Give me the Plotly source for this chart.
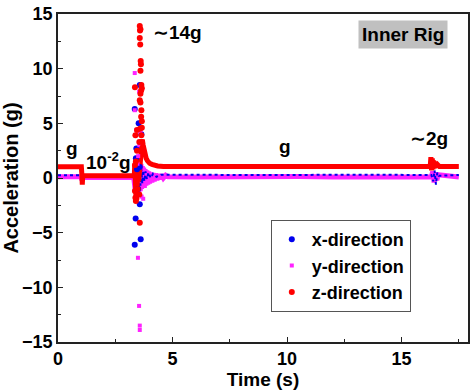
import plotly.graph_objects as go

# ---------------- data ----------------
# baselines (continuous noisy bands), time in s, acceleration in g
x_line_t = [0, 1.0, 1.04, 1.08, 3.30, 3.36, 3.40, 3.44, 3.48, 3.52, 3.56, 3.60, 3.64, 3.68,
            3.72, 3.77, 3.82, 3.88, 3.95, 4.05, 4.15, 4.30, 4.50, 6.0, 8.0, 10.0, 12.0, 14.0,
            16.30, 16.38, 16.44, 16.50, 16.56, 16.62, 17.50]
x_line_a = [0.25, 0.25, -0.1, 0.15, 0.15, -1.2, 1.0, -1.4, 1.2, -0.9, 1.0, -0.7, 0.8, -0.5,
            0.7, -0.3, 0.6, -0.1, 0.5, 0.0, 0.4, 0.1, 0.3, 0.28, 0.3, 0.27, 0.3, 0.28,
            0.28, -0.3, 0.7, -0.6, 0.5, 0.2, 0.28]

y_line_t = [0, 1.0, 1.04, 1.08, 3.30, 3.38, 3.42, 3.46, 3.50, 3.53, 3.56, 3.59, 3.62, 3.65,
            3.68, 3.71, 3.74, 3.77, 3.80, 3.84, 3.88, 3.92, 3.96, 4.00, 4.05, 4.10, 4.15,
            4.20, 4.26, 4.32, 4.38, 4.45, 4.52, 4.60, 4.70, 4.80, 6.0, 7.5, 9.0, 10.5, 12.0,
            13.5, 15.0, 16.30, 16.36, 16.42, 16.48, 16.54, 16.60, 17.50]
y_line_a = [0.12, 0.12, -0.2, 0.05, 0.08, -1.2, 0.8, -1.5, 1.6, -1.3, 1.5, -1.2, 1.3, -1.0,
            1.1, -0.8, 0.95, -0.9, 0.8, -0.7, 0.7, -0.6, 0.6, -0.5, 0.5, -0.4, 0.45,
            -0.3, 0.4, -0.2, 0.35, -0.1, 0.3, 0.0, 0.25, 0.12, 0.1, 0.14, 0.1, 0.13, 0.1,
            0.12, 0.1, 0.1, 0.6, -0.4, 0.5, -0.2, 0.3, 0.1]

z_line_t = [0, 1.02, 1.04, 1.06, 1.08, 1.12, 2.0, 3.0, 3.33, 3.35, 3.37, 3.39, 3.41, 3.43,
            3.45, 3.48, 3.52, 3.60, 3.68, 3.72, 3.76, 3.80, 3.85, 3.90, 3.95, 4.00, 4.10,
            4.20, 4.35, 4.60, 6.0, 8.0, 10.0, 12.0, 14.0, 16.25, 16.28, 16.31, 16.34,
            16.37, 16.40, 16.44, 16.48, 16.52, 16.58, 16.65, 17.50]
z_line_a = [1.02, 1.02, 0.4, -0.6, 0.2, 0.2, 0.2, 0.2, 0.2, 1.2, -1.5, 0.8, -2.0, 1.0,
            -1.0, 0.5, -0.3, 1.5, 3.5, 3.0, 2.5, 2.1, 1.8, 1.6, 1.45, 1.35, 1.25,
            1.15, 1.1, 1.05, 1.05, 1.05, 1.05, 1.05, 1.05, 1.05, 1.9, 0.7, 1.8,
            0.8, 1.6, 0.9, 1.5, 1.0, 1.2, 1.05, 1.05]

# scattered samples during the impact
x_pts_t = [3.57, 3.35, 3.52, 3.64, 3.42, 3.40, 3.57, 3.45, 3.50, 3.57, 3.39, 3.61, 3.35]
x_pts_a = [8.5, 6.3, 5.0, 4.0, 2.7, 1.8, 1.0, 0.8, -1.0, -2.4, -3.7, -5.6, -6.1]

y_pts_t = [3.35, 3.54, 3.35, 3.42, 3.60, 3.55, 3.50, 3.47, 3.72, 3.65, 3.49, 3.54, 3.57, 3.57]
y_pts_a = [9.6, 7.9, 6.2, 4.4, 4.2, 3.0, 2.0, 1.3, -1.9, -1.7, -7.3, -11.7, -13.5, -13.9]

z_pts_t = [3.57, 3.60, 3.58, 3.57, 3.59, 3.61, 3.62, 3.60, 3.64, 3.66, 3.36, 3.63, 3.60,
           3.57, 3.60, 3.64, 3.63, 3.66, 3.45, 3.58, 3.66, 3.64, 3.38, 3.55, 3.67, 3.69,
           3.45, 3.40, 3.36, 3.36, 3.38, 3.40, 3.42, 3.57, 3.55, 3.48]
z_pts_a = [13.9, 13.6, 13.5, 12.8, 12.2, 10.7, 10.4, 9.8, 8.5, 8.2, 8.3, 8.0, 7.7,
           7.1, 6.9, 6.2, 5.6, 5.2, 4.4, 4.5, 4.6, 3.9, 3.9, 3.3, 3.3, 2.8,
           2.5, 1.5, 1.2, -1.2, -1.8, -2.1, -1.9, -4.1, -1.5, -1.0]

series_names = ["x-direction", "y-direction", "z-direction"]
BLUE, MAG, RED = "#0000ee", "#ff22ff", "#ff0000"

x_ticks = [0, 5, 10, 15]
y_ticks = [-15, -10, -5, 0, 5, 10, 15]

FONT = "Arial, Liberation Sans, DejaVu Sans, sans-serif"

fig = go.Figure()
# bands
fig.add_trace(go.Scatter(x=y_line_t, y=y_line_a, mode="lines", line=dict(color=MAG, width=5),
                         showlegend=False, hoverinfo="skip"))
fig.add_trace(go.Scatter(x=x_line_t, y=x_line_a, mode="lines", line=dict(color=BLUE, width=2, dash="dot"),
                         showlegend=False, hoverinfo="skip"))
fig.add_trace(go.Scatter(x=z_line_t, y=z_line_a, mode="lines", line=dict(color=RED, width=5),
                         showlegend=False, hoverinfo="skip"))
# points
fig.add_trace(go.Scatter(x=x_pts_t, y=x_pts_a, mode="markers", name=series_names[0],
                         marker=dict(color=BLUE, size=6)))
fig.add_trace(go.Scatter(x=y_pts_t, y=y_pts_a, mode="markers", name=series_names[1],
                         marker=dict(color=MAG, size=4, symbol="square")))
fig.add_trace(go.Scatter(x=z_pts_t, y=z_pts_a, mode="markers", name=series_names[2],
                         marker=dict(color=RED, size=6)))

ann_font = dict(family=FONT, size=19, color="black", weight="bold")
annotations = [
    dict(x=0.6, y=2.7, text="g"),
    dict(x=2.2, y=1.6, text="10<sup>-2</sup>g"),
    dict(x=5.2, y=13.3, text="∼14g"),
    dict(x=9.9, y=2.85, text="g"),
    dict(x=16.2, y=3.6, text="∼2g"),
]
for a in annotations:
    a.update(xref="x", yref="y", showarrow=False, font=ann_font,
             xanchor="center", yanchor="middle")
annotations.append(dict(xref="paper", yref="paper", x=0.842, y=0.937, text="Inner Rig",
                        xanchor="center", yanchor="middle",
                        showarrow=False, bgcolor="#c0c0c0", borderpad=3,
                        font=dict(family=FONT, size=19, color="black", weight="bold")))

axis_common = dict(showline=True, linecolor="#222", linewidth=1.5, mirror=True,
                   showgrid=False, zeroline=False, ticks="inside", ticklen=5,
                   tickcolor="#222", tickwidth=1.2,
                   tickfont=dict(family=FONT, size=18, color="black", weight="bold"))

fig.update_layout(
    width=474, height=391,
    margin=dict(l=58, r=4, t=11, b=49),
    paper_bgcolor="white", plot_bgcolor="white",
    xaxis=dict(range=[0, 17.9], tickvals=x_ticks,
               minor=dict(tickvals=[2.5, 7.5, 12.5, 17.5], ticks="inside", ticklen=3, tickcolor="#222"),
               title=dict(text="Time (s)", standoff=2,
                          font=dict(family=FONT, size=19, color="black", weight="bold")),
               **axis_common),
    yaxis=dict(range=[-15, 15], tickvals=y_ticks,
               minor=dict(dtick=2.5, ticks="inside", ticklen=3, tickcolor="#222"),
               title=dict(text="Acceleration (g)", standoff=2,
                          font=dict(family=FONT, size=20, color="black", weight="bold")),
               **axis_common),
    legend=dict(x=0.519, y=0.372, xanchor="left", yanchor="top",
                bordercolor="#555", borderwidth=1, bgcolor="white",
                font=dict(family=FONT, size=18, color="black", weight="bold"),
                tracegroupgap=0, itemwidth=30),
    annotations=annotations,
    showlegend=True,
)

# remove the default page margin so the figure fills the window exactly
fig.write_html("out.html", config={"displayModeBar": False},
               post_script="document.body.style.margin='0';")
